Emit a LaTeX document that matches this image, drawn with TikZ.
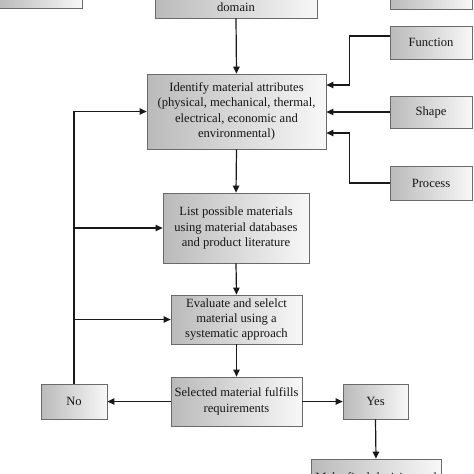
\documentclass[tikz,border=0pt]{standalone}
\usepackage{fontspec}
\setmainfont{Liberation Serif}
\usetikzlibrary{arrows.meta}
\definecolor{txt}{HTML}{151515}
\definecolor{edge}{HTML}{6A6A6A}
\tikzset{
  boxstyle/.style={draw=edge, line width=0.8pt, shading=axis, left color=black!27, right color=black!3,
    shading angle=90, text=txt, align=center, font=\fontsize{12.6}{15.3}\selectfont, inner sep=0pt},
  arr/.style={line width=1.2pt, draw=black!90, -{Triangle[length=7pt,width=6.5pt]}},
  lbl/.style={text=txt, font=\fontsize{12.6}{15.3}\selectfont}
}
\begin{document}
\begin{tikzpicture}[x=1pt,y=-1pt]
\useasboundingbox (0,0) rectangle (474,474);
\clip (0,0) rectangle (474,474);
% top partial boxes
\node[boxstyle, minimum width=84pt, minimum height=28pt] (topL) at (40,-6) {};
\node[boxstyle, minimum width=162pt, minimum height=48pt] (topC) at (236,-6) {};
\node[lbl, anchor=base] (domt) at (236,11.5) {domain};
\node[boxstyle, minimum width=82pt, minimum height=29pt] (topR) at (431,-5.5) {};
% right inputs
\node[boxstyle, minimum width=82pt, minimum height=33pt] (func) at (431,42.5) {Function};
\node[boxstyle, minimum width=82pt, minimum height=32pt] (shape) at (431,112) {Shape};
\node[boxstyle, minimum width=82pt, minimum height=34pt] (process) at (431,183) {Process};
% main column
\node[boxstyle, minimum width=179pt, minimum height=75pt] (ident) at (236.5,111.5)
  {Identify material attributes\\(physical, mechanical, thermal,\\electrical, economic and\\environmental)};
\node[boxstyle, minimum width=146pt, minimum height=70pt] (list) at (236,228)
  {List possible materials\\using material databases\\and product literature};
\node[boxstyle, minimum width=131pt, minimum height=49pt] (eval) at (236.5,319.5)
  {Evaluate and selelct\\material using a\\systematic approach};
\node[boxstyle, minimum width=131pt, minimum height=49pt] (sel) at (236.5,401.5)
  {Selected material fulfills\\requirements};
\node[boxstyle, minimum width=66pt, minimum height=35pt] (no) at (74,401.5) {No};
\node[boxstyle, minimum width=65pt, minimum height=35pt] (yes) at (375.5,401.5) {Yes};
\node[boxstyle, minimum width=130pt, minimum height=40pt] (final) at (376,479) {};
\node[lbl, anchor=base] (finalt) at (376,481) {Make final decision and};
% connectors
\draw[arr] (topC.south) -- (ident.north);
\draw[arr] ([yshift=6.5pt]func.west) -- ++(-40,0) |- ([yshift=26.5pt]ident.east);
\draw[arr] (shape.west) -- (shape.west -| ident.east);
\draw[arr] (process.west) -- ++(-40,0) |- ([yshift=-21.5pt]ident.east);
\draw[arr] (ident.south) -- (list.north);
\draw[arr] (list.south) -- (eval.north);
\draw[arr] (eval.south) -- (sel.north);
\draw[arr] (sel.west) -- (no.east);
\draw[arr] (sel.east) -- (yes.west);
\draw[arr] (no.north) |- (ident.west);
\draw[arr] (no.north |- list.west) -- (list.west);
\draw[arr] (no.north |- eval.west) -- (eval.west);
\draw[arr] (yes.south) -- (final.north);
\end{tikzpicture}
\end{document}
